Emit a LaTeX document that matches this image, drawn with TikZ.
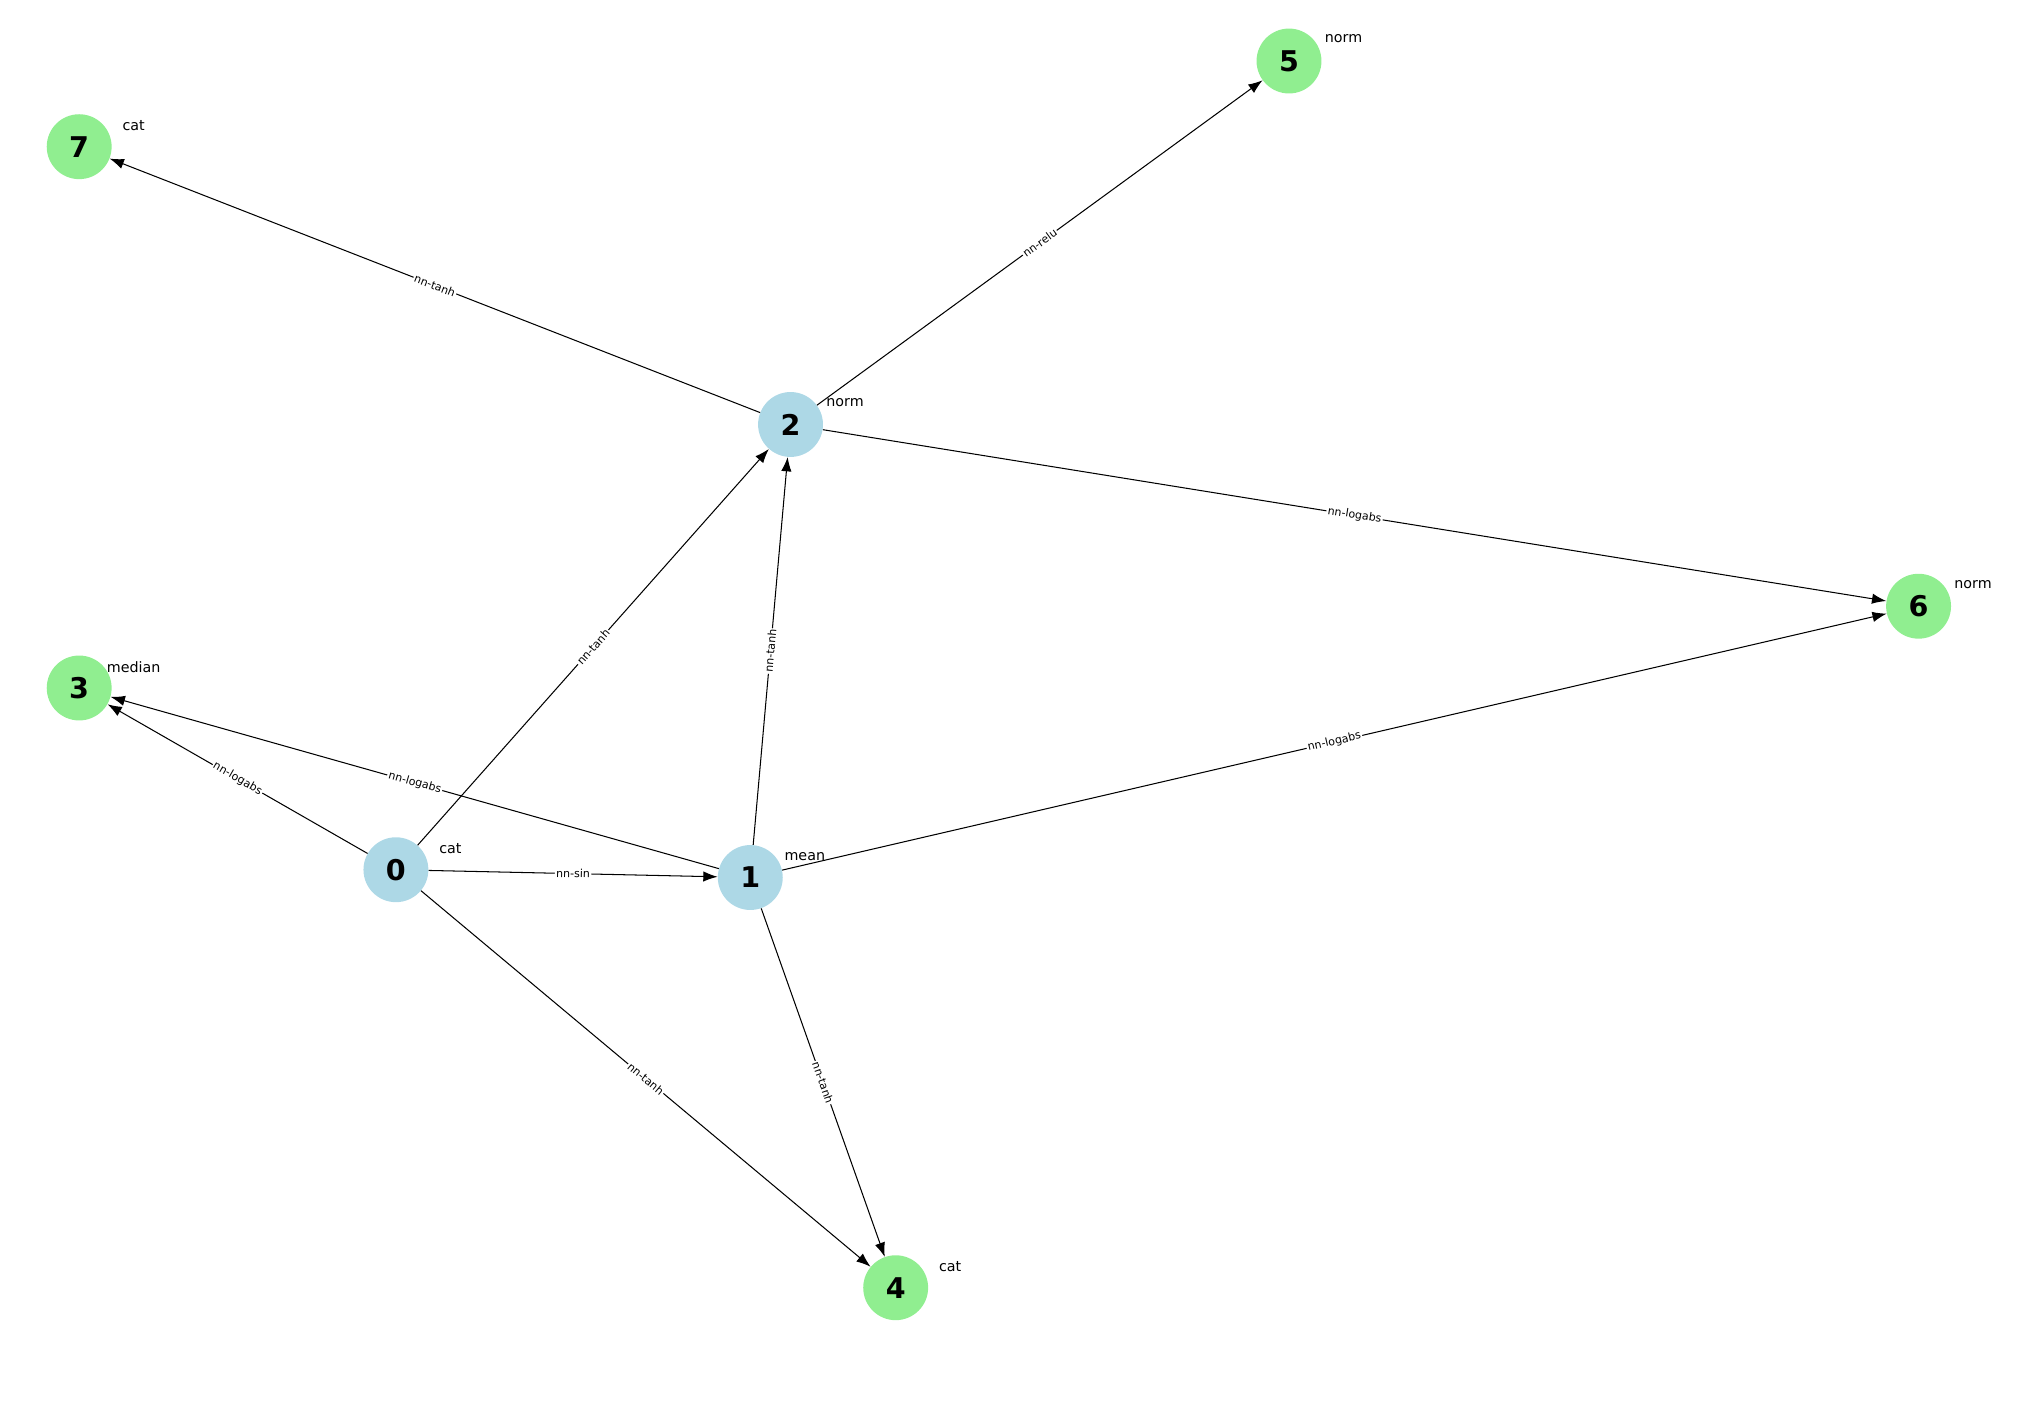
\documentclass[tikz,border=0pt]{standalone}
\usepackage{fontspec}
\setmainfont{DejaVu Sans}
\usetikzlibrary{arrows.meta}
\definecolor{lb}{HTML}{ADD8E6}
\definecolor{lg}{HTML}{90EE90}
\tikzset{
  x=1pt,y=-1pt,
  vb/.style={circle,fill=lb,minimum size=50pt,inner sep=0pt,font=\fontsize{22}{24}\selectfont\bfseries},
  vg/.style={circle,fill=lg,minimum size=50pt,inner sep=0pt,font=\fontsize{22}{24}\selectfont\bfseries},
  tag/.style={font=\fontsize{11}{13}\selectfont,anchor=center},
  ed/.style={-{Latex[length=11pt,width=8pt]},line width=0.8pt},
  el/.style={font=\fontsize{8.5}{10}\selectfont,fill=white,inner sep=1pt,sloped,pos=0.5}
}
\begin{document}
\begin{tikzpicture}
\useasboundingbox (0,0) rectangle (1560,1085);
\node[vb] (n0) at (305,670) {0};
\node[vb] (n1) at (578,676) {1};
\node[vb] (n2) at (609,327) {2};
\node[vg] (n3) at (61,530) {3};
\node[vg] (n4) at (690,992) {4};
\node[vg] (n5) at (993,47) {5};
\node[vg] (n6) at (1478,467) {6};
\node[vg] (n7) at (61,113) {7};
\node[tag] (t0) at (347,654) {cat};
\node[tag] (t1) at (620,660) {mean};
\node[tag] (t2) at (651,310) {norm};
\node[tag] (t3) at (103,514) {median};
\node[tag] (t4) at (732,976) {cat};
\node[tag] (t5) at (1035,30) {norm};
\node[tag] (t6) at (1520,450) {norm};
\node[tag] (t7) at (103,97) {cat};
\draw[ed] (n0) -- node[el] {nn-sin} (n1);
\draw[ed] (n0) -- node[el] {nn-tanh} (n2);
\draw[ed] (n0) -- node[el] {nn-logabs} (n3);
\draw[ed] (n0) -- node[el] {nn-tanh} (n4);
\draw[ed] (n1) -- node[el] {nn-tanh} (n2);
\draw[ed] (n1) -- node[el] {nn-logabs} (n3);
\draw[ed] (n1) -- node[el] {nn-tanh} (n4);
\draw[ed] (n1) -- node[el] {nn-logabs} (n6);
\draw[ed] (n2) -- node[el] {nn-relu} (n5);
\draw[ed] (n2) -- node[el] {nn-logabs} (n6);
\draw[ed] (n2) -- node[el] {nn-tanh} (n7);
\end{tikzpicture}
\end{document}
